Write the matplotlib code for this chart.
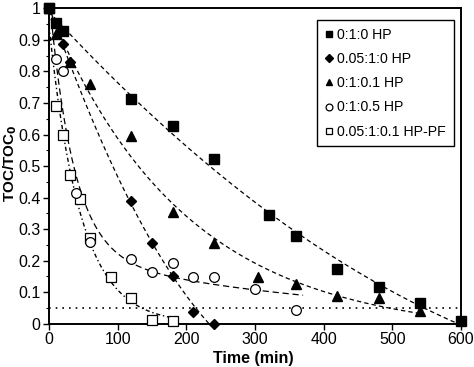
import numpy as np
import matplotlib
matplotlib.use("Agg")
import matplotlib.pyplot as plt
from matplotlib.ticker import MultipleLocator

plt.rcParams['font.family'] = ['Liberation Sans', 'DejaVu Sans']

# ---- data ----
t_sq = [0, 10, 20, 120, 180, 240, 320, 360, 420, 480, 540, 600]
y_sq = [1.0, 0.955, 0.929, 0.714, 0.627, 0.523, 0.345, 0.278, 0.174, 0.117, 0.065, 0.008]

t_di = [0, 20, 30, 120, 150, 180, 210, 240]
y_di = [1.0, 0.886, 0.83, 0.389, 0.256, 0.150, 0.036, 0.0]

t_tr = [0, 10, 30, 60, 120, 180, 240, 305, 360, 420, 480, 540]
y_tr = [1.0, 0.92, 0.83, 0.759, 0.595, 0.355, 0.256, 0.147, 0.126, 0.089, 0.080, 0.040]

t_ci = [0, 10, 20, 40, 60, 120, 150, 180, 210, 240, 300, 360]
y_ci = [1.0, 0.839, 0.80, 0.415, 0.258, 0.205, 0.165, 0.192, 0.149, 0.149, 0.110, 0.043]

t_os = [0, 10, 20, 30, 45, 60, 90, 120, 150, 180]
y_os = [1.0, 0.69, 0.598, 0.471, 0.395, 0.272, 0.147, 0.080, 0.013, 0.010]

labels = ["0:1:0 HP", "0.05:1:0 HP", "0:1:0.1 HP", "0:1:0.5 HP", "0.05:1:0.1 HP-PF"]
threshold = 0.05


def fit_exp(t, y, two=True, const=True):
    t = np.asarray(t, float); y = np.asarray(y, float)
    ks = np.logspace(-3.5, -0.8, 120)
    best = None
    k2s = ks if two else [None]
    for k1 in ks:
        for k2 in k2s:
            cols = [np.exp(-k1 * t)]
            if k2 is not None:
                if k2 >= k1:
                    continue
                cols.append(np.exp(-k2 * t))
            if const:
                cols.append(np.ones_like(t))
            M = np.vstack(cols).T
            coef, *_ = np.linalg.lstsq(M, y, rcond=None)
            err = np.sum((M @ coef - y) ** 2)
            if best is None or err < best[0]:
                best = (err, k1, k2, coef)
    _, k1, k2, coef = best

    def f(tt):
        tt = np.asarray(tt, float)
        cols = [np.exp(-k1 * tt)]
        if k2 is not None:
            cols.append(np.exp(-k2 * tt))
        if const:
            cols.append(np.ones_like(tt))
        return np.vstack(cols).T @ coef
    return f


fig = plt.figure(figsize=(4.74, 3.67), dpi=100)
ax = fig.add_axes([0.1034, 0.118, 0.8692, 0.859])

# fitted curves
tt = np.linspace(0, 600, 400)
p_sq = np.polyfit(t_sq, y_sq, 2)
ax.plot(tt, np.polyval(p_sq, tt), color='black', lw=0.9, ls=(0, (3.5, 2.5)))

t_d = np.linspace(0, max(t_di), 200)
p_di = np.polyfit(t_di, y_di, 2)
ax.plot(t_d, np.polyval(p_di, t_d), color='black', lw=0.9, ls=(0, (3.5, 2.5)))

t_t = np.linspace(0, max(t_tr), 300)
f_tr = fit_exp(t_tr, y_tr, two=False, const=True)
ax.plot(t_t, f_tr(t_t), color='black', lw=0.9, ls=(0, (3.5, 2.5)))

t_c = np.linspace(0, 370, 300)
f_ci = fit_exp(t_ci, y_ci, two=True, const=False)
ax.plot(t_c, f_ci(t_c), color='black', lw=0.9, ls=(0, (5, 3)))

t_o = np.linspace(0, max(t_os), 300)
f_os = fit_exp(t_os, y_os, two=False, const=True)
ax.plot(t_o, f_os(t_o), color='black', lw=1.0, ls=(0, (3, 2, 1, 2)))

ax.axhline(threshold, color='black', lw=1.2, ls=(0, (1, 3)))

# markers
h5, = ax.plot(t_os, y_os, 's', mfc='white', mec='black', mew=0.9, ms=7, ls='none',
              label=labels[4], clip_on=False, zorder=3)
h4, = ax.plot(t_ci, y_ci, 'o', mfc='white', mec='black', mew=0.9, ms=7, ls='none',
              label=labels[3], clip_on=False, zorder=3)
h3, = ax.plot(t_tr, y_tr, '^', color='black', ms=7, ls='none', label=labels[2],
              clip_on=False, zorder=3)
h2, = ax.plot(t_di, y_di, 'D', color='black', ms=5.5, ls='none', label=labels[1],
              clip_on=False, zorder=3)
h1, = ax.plot(t_sq, y_sq, 's', color='black', ms=7, ls='none', label=labels[0],
              clip_on=False, zorder=4)

ax.set_xlim(0, 600)
ax.set_ylim(0, 1)
ax.xaxis.set_major_locator(MultipleLocator(100))
ax.yaxis.set_minor_locator(MultipleLocator(0.05))
ax.set_yticks([0, 0.1, 0.2, 0.3, 0.4, 0.5, 0.6, 0.7, 0.8, 0.9, 1.0])
ax.set_yticklabels(['0', '0.1', '0.2', '0.3', '0.4', '0.5', '0.6', '0.7', '0.8', '0.9', '1'])
ax.tick_params(axis='both', which='major', direction='out', length=4, width=1, labelsize=11.5, pad=2)
ax.tick_params(axis='both', which='minor', direction='out', length=2.5, width=0.8)
for s in ax.spines.values():
    s.set_linewidth(1.4)

ax.set_xlabel('Time (min)', fontsize=11.5, fontweight='bold')
ax.set_ylabel('TOC/TOC$_\\mathbf{0}$', fontsize=11, fontweight='bold')
ax.xaxis.set_label_coords(0.495, -0.087)
ax.yaxis.set_label_coords(-0.072, 0.51)

leg = ax.legend(handles=[h1, h2, h3, h4, h5], loc='upper right', fontsize=10.2,
                frameon=True, fancybox=False, edgecolor='black', framealpha=1,
                handlelength=0.6, handletextpad=0.3, borderpad=0.55, labelspacing=0.72,
                markerscale=0.7, borderaxespad=0, bbox_to_anchor=(0.983, 0.963))
leg.get_frame().set_linewidth(1.0)
leg.set_zorder(5)

fig.savefig('out.png', dpi=100)
